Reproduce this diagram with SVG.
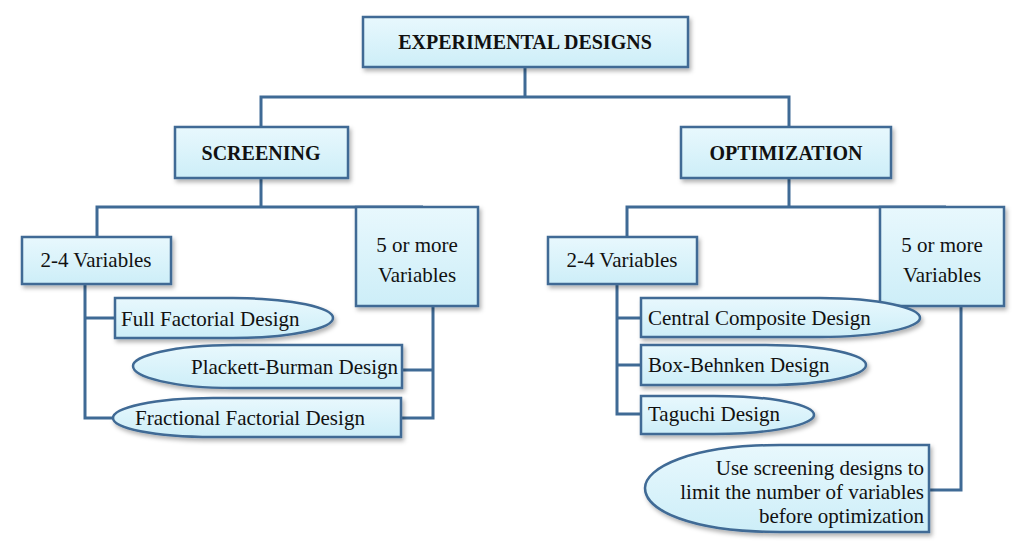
<svg xmlns="http://www.w3.org/2000/svg" width="1022" height="558" viewBox="0 0 1022 558">
<defs>
<filter id="sh" x="-10%" y="-10%" width="130%" height="140%"><feDropShadow dx="2" dy="3" stdDeviation="2" flood-color="#000" flood-opacity="0.3"/></filter>
<linearGradient id="g" x1="0" y1="0" x2="0" y2="1"><stop offset="0" stop-color="#e8f8fd"/><stop offset="1" stop-color="#cdeef8"/></linearGradient>
</defs>
<style>
.n{fill:url(#g);stroke:#3f6a95;stroke-width:2.5;filter:url(#sh)}
.t{font-family:"Liberation Serif",serif;font-size:21px;fill:#111}
.b{font-weight:bold;font-size:20px}
.c{fill:none;stroke:#3f6a95;stroke-width:3}
</style>
<rect width="1022" height="558" fill="#fff"/>
<g id="connectors">
<path class="c" d="M525,67V97M261,127V97H789V127"/>
<path class="c" d="M261,178V207M97,237V207H423V207"/>
<path class="c" d="M85,284V418H115M85,318H115M433,306V418H402M433,370H402"/>
<path class="c" d="M789,178V207M627,237V207H946V207"/>
<path class="c" d="M617,284V414H641M617,318H641M617,365H641M961,306V490H929"/>
</g>
<g id="experimental"><rect class="n" x="363" y="17" width="325" height="50"/><text class="t b" x="525" y="49" text-anchor="middle">EXPERIMENTAL DESIGNS</text></g>
<g id="screening"><rect class="n" x="175" y="127" width="173" height="51"/><text class="t b" x="261" y="160" text-anchor="middle">SCREENING</text></g>
<g id="optimization"><rect class="n" x="681" y="127" width="210" height="51"/><text class="t b" x="786" y="160" text-anchor="middle">OPTIMIZATION</text></g>
<g id="s24"><rect class="n" x="22" y="237" width="149" height="47"/><text class="t" x="96" y="267" text-anchor="middle">2-4 Variables</text></g>
<g id="s5"><rect class="n" x="356" y="207" width="122" height="99"/><text class="t" x="417" y="252" text-anchor="middle">5 or more</text><text class="t" x="417" y="282" text-anchor="middle">Variables</text></g>
<g id="o24"><rect class="n" x="548" y="237" width="149" height="47"/><text class="t" x="622" y="267" text-anchor="middle">2-4 Variables</text></g>
<g id="o5"><rect class="n" x="880" y="207" width="124" height="99"/><text class="t" x="942" y="252" text-anchor="middle">5 or more</text><text class="t" x="942" y="282" text-anchor="middle">Variables</text></g>
<g id="full"><path class="n" d="M115,298H233C293,298 333,308 333,318C333,328 293,338 233,338H115Z"/><text class="t" x="121" y="326">Full Factorial Design</text></g>
<g id="plackett"><path class="n" d="M402,345H233C173,345 133,356 133,366C133,377 173,388 233,388H402Z"/><text class="t" x="398" y="374" text-anchor="end">Plackett-Burman Design</text></g>
<g id="fractional"><path class="n" d="M401,398H213C153,398 113,408 113,418C113,428 153,437 213,437H401Z"/><text class="t" x="250" y="425" text-anchor="middle">Fractional Factorial Design</text></g>
<g id="ccd"><path class="n" d="M641,298H820C880,298 920,308 920,318C920,327 880,337 820,337H641Z"/><text class="t" x="648" y="325">Central Composite Design</text></g>
<g id="bbd"><path class="n" d="M641,345H766C826,345 866,355 866,365C866,375 826,385 766,385H641Z"/><text class="t" x="648" y="372">Box-Behnken Design</text></g>
<g id="taguchi"><path class="n" d="M641,396H714C774,396 814,405 814,415C814,424 774,434 714,434H641Z"/><text class="t" x="648" y="421">Taguchi Design</text></g>
<g id="use"><path class="n" d="M929,445H780C690,445 645,468 645,488C645,510 690,532 780,532H929Z"/><text class="t" x="924" y="475" text-anchor="end">Use screening designs to</text><text class="t" x="924" y="499" text-anchor="end">limit the number of variables</text><text class="t" x="924" y="523" text-anchor="end">before optimization</text></g>
</svg>
